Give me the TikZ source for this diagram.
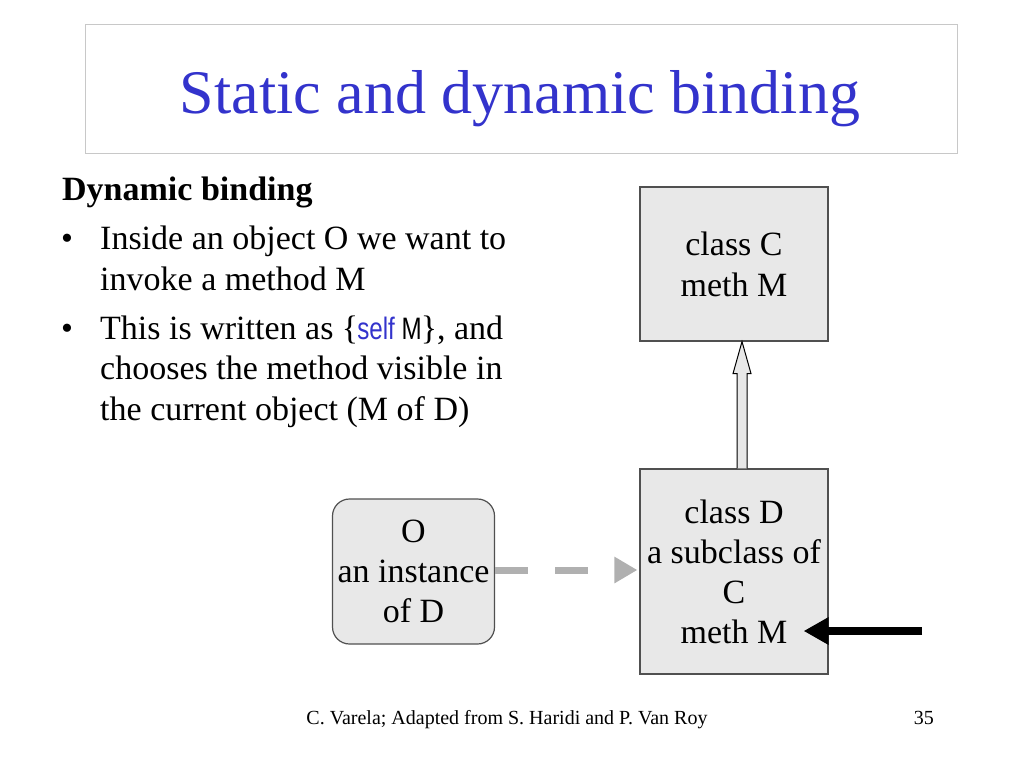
\documentclass[tikz,border=0pt]{standalone}
\usepackage{fontspec}
\setmainfont{Liberation Serif}
\newfontfamily\narrowsans[FakeStretch=0.78]{Liberation Sans}
\usetikzlibrary{arrows.meta,calc}
\definecolor{titleblue}{RGB}{51,51,204}
\definecolor{boxfill}{RGB}{232,232,232}
\definecolor{boxline}{RGB}{80,80,80}
\definecolor{dashgray}{RGB}{176,176,176}
\definecolor{framegray}{RGB}{200,200,200}
\tikzset{
  bodytext/.style={anchor=base west, inner sep=0pt, font=\fontsize{34}{40}\selectfont},
  titletext/.style={anchor=base, inner sep=0pt, text=titleblue, font=\fontsize{62}{70}\selectfont},
  titlebox/.style={draw=framegray, line width=1pt, inner sep=0pt},
  classbox/.style={draw=boxline, fill=boxfill, line width=1.2pt, inner sep=2pt, align=center,
    font=\fontsize{34}{40}\selectfont},
  objbox/.style={classbox, rounded corners=17pt},
  hollowarrow/.style={draw=black, fill=boxfill, line width=1pt, line join=miter},
  instarrow/.style={draw=dashgray, line width=7pt, dash pattern=on 33pt off 27pt,
    -{Triangle[length=23pt,width=25pt]}, shorten >=2pt},
  pointarrow/.style={draw=black, line width=8pt, -{Triangle[length=25pt,width=26pt]}},
  foottext/.style={anchor=base, inner sep=0pt, font=\fontsize{20}{24}\selectfont}
}
\begin{document}
\begin{tikzpicture}[x=1pt,y=-1pt]
\useasboundingbox (0,0) rectangle (1024,768);
% title
\node[titlebox, minimum width=872pt, minimum height=128pt] (tbox) at (521,89) {};
\node[titletext] (title) at (520,113) {Static and dynamic binding};
% left text
\node[bodytext, font=\fontsize{34}{40}\selectfont\bfseries] (head) at (62,200) {Dynamic binding};
\node[bodytext] (b1) at (61,249) {•};
\node[bodytext] (l1) at (100,249) {Inside an object O we want to};
\node[bodytext] (l2) at (100,290) {invoke a method M};
\node[bodytext] (b2) at (61,339) {•};
\node[bodytext] (l3) at (100,339) {This is written as \{\kern-1pt{\fontsize{31}{36}\selectfont\narrowsans\textcolor{titleblue}{self} M}\kern-1pt\}, and};
\node[bodytext] (l4) at (100,379) {chooses the method visible in};
\node[bodytext] (l5) at (100,420) {the current object (M of D)};
% boxes
\node[classbox, minimum width=188pt, minimum height=154pt] (C) at (734,264) {class C\\[1pt]meth M};
\node[classbox, minimum width=188pt, minimum height=205pt] (D) at (734,571.5) {class D\\a subclass of\\C\\meth M};
\node[objbox, minimum width=162pt, minimum height=145pt] (O) at (413.5,571.5) {O\\an instance\\of D};
% inheritance arrow (hollow)
\coordinate (tip) at ($(C.south)+(8,0)$);
\coordinate (base) at ($(D.north)+(8,0)$);
\draw[hollowarrow] ($(base)+(-5,0)$) -- ($(tip)+(-5,32)$) -- ($(tip)+(-9,32)$) -- (tip)
  -- ($(tip)+(9,32)$) -- ($(tip)+(5,32)$) -- ($(base)+(5,0)$);
% instance arrow
\draw[instarrow] (O.east |- 0,570) -- (D.west |- 0,570);
% pointer arrow
\coordinate (pstart) at (922,631);
\coordinate (ptip) at ($(D.east)+(-25,59.5)$);
\draw[pointarrow] (pstart) -- (ptip);
% footer
\node[foottext] (foot) at (507,724) {C. Varela; Adapted from S. Haridi and P. Van Roy};
\node[foottext, anchor=base east] (num) at (934,724) {35};
\end{tikzpicture}
\end{document}
